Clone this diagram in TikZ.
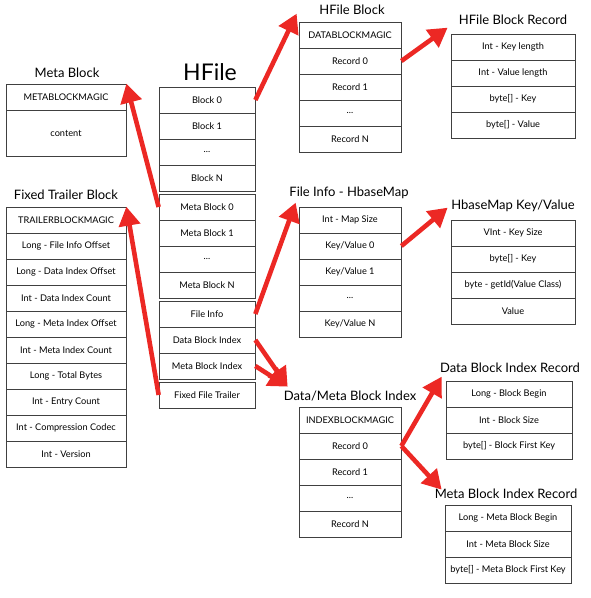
\documentclass[tikz,border=0pt]{standalone}
\usepackage{fontspec}
\setmainfont{Lato}
\usetikzlibrary{arrows.meta,calc}
\definecolor{arrowred}{RGB}{236,40,36}

\begin{document}
\begin{tikzpicture}[x=1pt,y=1pt,
  cell/.style={draw=black!75,line width=0.7pt,inner sep=0pt,minimum height=26pt,font=\fontsize{9.2}{11}\selectfont},
  leftcell/.style={cell,minimum width=120pt},
  filecell/.style={cell,minimum width=96pt},
  midcell/.style={cell,minimum width=102pt},
  rightcell/.style={cell,minimum width=124pt},
  title/.style={inner sep=0pt,font=\fontsize{13}{15}\selectfont},
  ptr/.style={arrowred,line width=4.6pt,-{Triangle[length=19pt,width=21pt]}}]
\useasboundingbox (0,0) rectangle (591,-598);
\node [title] (metatitle) at (67,-73) {Meta Block};
\node [leftcell] (metamagic) at (66,-97) {METABLOCKMAGIC};
\node [leftcell,minimum height=46pt] (metacontent) at (66,-133) {content};
\node [title] (trtitle) at (66,-195) {Fixed Trailer Block};
\node [leftcell] (trmagic) at (66,-220) {TRAILERBLOCKMAGIC};
\node [leftcell] (trfio) at (66,-246) {Long - File Info Offset};
\node [leftcell] (trdio) at (66,-272) {Long - Data Index Offset};
\node [leftcell] (trdic) at (66,-298) {Int - Data Index Count};
\node [leftcell] (trmio) at (66,-324) {Long - Meta Index Offset};
\node [leftcell] (trmic) at (66,-350) {Int - Meta Index Count};
\node [leftcell] (trtot) at (66,-376) {Long - Total Bytes};
\node [leftcell] (trent) at (66,-402) {Int - Entry Count};
\node [leftcell] (trcod) at (66,-428) {Int - Compression Codec};
\node [leftcell] (trver) at (66,-454) {Int - Version};
\node [inner sep=0pt,font=\fontsize{23}{25}\selectfont] (hftitle) at (210,-72) {HFile};
\node [filecell] (blk0) at (207,-100) {Block 0};
\node [filecell] (blk1) at (207,-126) {Block 1};
\node [filecell] (blkdots) at (207,-152) {...};
\node [filecell] (blkn) at (207,-178) {Block N};
\node [filecell] (mb0) at (207,-207) {Meta Block 0};
\node [filecell] (mb1) at (207,-233) {Meta Block 1};
\node [filecell] (mbdots) at (207,-259) {...};
\node [filecell] (mbn) at (207,-285) {Meta Block N};
\node [filecell] (finfo) at (207,-314) {File Info};
\node [filecell] (dbi) at (207,-340) {Data Block Index};
\node [filecell] (mbi) at (207,-366) {Meta Block Index};
\node [filecell] (fft) at (207,-395) {Fixed File Trailer};
\node [title] (hbtitle) at (352,-10) {HFile Block};
\node [midcell] (hbmagic) at (350,-35) {DATABLOCKMAGIC};
\node [midcell] (hbrec0) at (350,-61) {Record 0};
\node [midcell] (hbrec1) at (350,-87) {Record 1};
\node [midcell] (hbdots) at (350,-113) {...};
\node [midcell] (hbrecn) at (350,-139) {Record N};
\node [title] (rectitle) at (513,-20) {HFile Block Record};
\node [rightcell] (reckl) at (513,-47) {Int - Key length};
\node [rightcell] (recvl) at (513,-73) {Int - Value length};
\node [rightcell] (reckey) at (513,-99) {byte[] - Key};
\node [rightcell] (recval) at (513,-125) {byte[] - Value};
\node [title] (fititle) at (349,-193) {File Info - HbaseMap};
\node [midcell] (fisize) at (350,-220) {Int - Map Size};
\node [midcell] (fikv0) at (350,-246) {Key/Value 0};
\node [midcell] (fikv1) at (350,-272) {Key/Value 1};
\node [midcell] (fidots) at (350,-298) {...};
\node [midcell] (fikvn) at (350,-324) {Key/Value N};
\node [title] (kvtitle) at (513,-206) {HbaseMap Key/Value};
\node [rightcell] (kvks) at (513,-233) {VInt - Key Size};
\node [rightcell] (kvkey) at (513,-259) {byte[] - Key};
\node [rightcell] (kvid) at (513,-285) {byte - getId(Value Class)};
\node [rightcell] (kvval) at (513,-311) {Value};
\node [title] (idxtitle) at (350,-396) {Data/Meta Block Index};
\node [midcell] (idxmagic) at (350,-420) {INDEXBLOCKMAGIC};
\node [midcell] (idxrec0) at (350,-446) {Record 0};
\node [midcell] (idxrec1) at (350,-472) {Record 1};
\node [midcell] (idxdots) at (350,-498) {...};
\node [midcell] (idxrecn) at (350,-524) {Record N};
\node [title] (dititle) at (510,-368) {Data Block Index Record};
\node [rightcell,minimum width=126pt] (dibegin) at (509,-394) {Long - Block Begin};
\node [rightcell,minimum width=126pt] (disize) at (509,-420) {Int - Block Size};
\node [rightcell,minimum width=126pt] (dikey) at (509,-446) {byte[] - Block First Key};
\node [title] (mititle) at (506,-494) {Meta Block Index Record};
\node [rightcell,minimum width=126pt] (mibegin) at (508,-518) {Long - Meta Block Begin};
\node [rightcell,minimum width=126pt] (misize) at (508,-544) {Int - Meta Block Size};
\node [rightcell,minimum width=126pt] (mikey) at (508,-570) {byte[] - Meta Block First Key};
\draw [ptr] (blk0.east) -- ($(hbmagic.north west)+(-2,8)$);
\draw [ptr] (hbrec0.east) -- ($(reckl.north west)+(-3,6)$);
\draw [ptr] (mb0.west) -- (metamagic.north east);
\draw [ptr] (fft.west) -- (trmagic.north east);
\draw [ptr] (finfo.east) -- ($(fisize.north west)+(-3,4)$);
\draw [ptr] (fikv0.east) -- ($(kvks.north west)+(-3,12)$);
\draw [ptr] (dbi.east) -- ($(idxmagic.north west)+(-11,20)$);
\draw [ptr] (mbi.east) -- ($(idxmagic.north west)+(-11,20)$);
\draw [ptr] (idxrec0.east) -- ($(dibegin.north west)+(-4,4)$);
\draw [ptr] (idxrec0.east) -- ($(mibegin.north west)+(-3,15)$);
\end{tikzpicture}
\end{document}
